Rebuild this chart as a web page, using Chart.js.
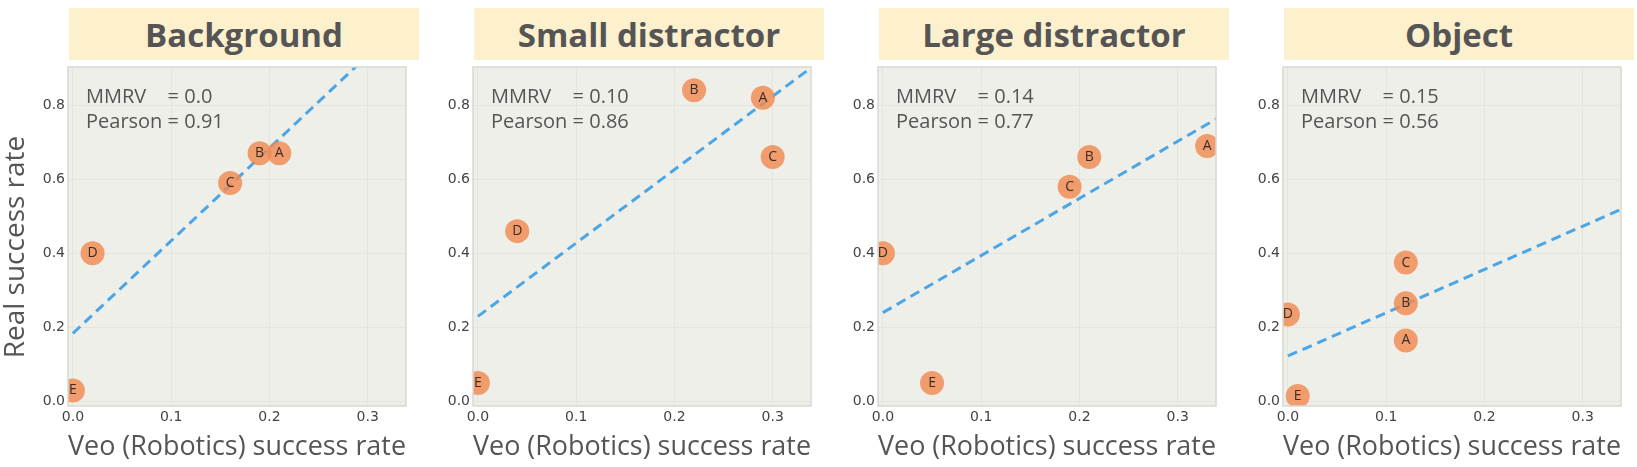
<!DOCTYPE html>
<html>
<head>
<meta charset="utf-8">
<script src="https://cdn.jsdelivr.net/npm/chart.js@4/dist/chart.umd.min.js"></script>
<style>
  body { margin: 0; background: #fff; width: 1637px; height: 467px; overflow: hidden; position: relative; }
  .title-box {
    position: absolute; top: 8px; height: 52px; width: 350px;
    background: #fdf0cd; color: #555;
    font-family: 'Open Sans', sans-serif; font-weight: 700; font-size: 33px;
    display: flex; align-items: center; justify-content: center;
  }
  canvas { position: absolute; top: 0; }
</style>
</head>
<body>
<script>
const panelTitles = ['Background', 'Small distractor', 'Large distractor', 'Object'];
const pointLabels = ['A', 'B', 'C', 'D', 'E'];

// Veo (Robotics) success rate per policy A..E
const veoBackground = [0.21, 0.19, 0.16, 0.02, 0.0];
const veoSmall = [0.29, 0.22, 0.30, 0.04, 0.0];
const veoLarge = [0.33, 0.21, 0.19, 0.0, 0.05];
const veoObject = [0.12, 0.12, 0.12, 0.0, 0.01];

// Real success rate per policy A..E
const realBackground = [0.67, 0.67, 0.59, 0.40, 0.03];
const realSmall = [0.82, 0.84, 0.66, 0.46, 0.05];
const realLarge = [0.69, 0.66, 0.58, 0.40, 0.05];
const realObject = [0.165, 0.265, 0.375, 0.235, 0.015];

// dashed fit line: value at x = 0 and at x = 0.34
const fitStart = [0.184, 0.23, 0.24, 0.123];
const fitEnd = [1.034, 0.903, 0.764, 0.52];

const mmrvValues = ['0.0', '0.10', '0.14', '0.15'];
const pearsonValues = ['0.91', '0.86', '0.77', '0.56'];

const xTickValues = [0.0, 0.1, 0.2, 0.3];
const yTickValues = [0.0, 0.2, 0.4, 0.6, 0.8];

const veoRates = [veoBackground, veoSmall, veoLarge, veoObject];
const realRates = [realBackground, realSmall, realLarge, realObject];

const plotLefts = [68, 473, 878, 1283];
const yAxisWidth = 68;
const canvasW = 418, canvasH = 467;

const plotBg = {
  id: 'plotBg',
  beforeDraw(chart) {
    const a = chart.chartArea, ctx = chart.ctx;
    ctx.save();
    ctx.fillStyle = '#efefea';
    ctx.fillRect(a.left, a.top, a.right - a.left, a.bottom - a.top);
    ctx.restore();
  },
  afterDraw(chart) {
    const a = chart.chartArea, ctx = chart.ctx;
    ctx.save();
    ctx.strokeStyle = '#d8d8d3';
    ctx.lineWidth = 1.5;
    ctx.strokeRect(a.left, a.top, a.right - a.left, a.bottom - a.top);
    ctx.restore();
  }
};

const extraText = {
  id: 'extraText',
  afterDatasetsDraw(chart, args, opts) {
    const ctx = chart.ctx, a = chart.chartArea;
    ctx.save();
    // letters on the dots
    const meta = chart.getDatasetMeta(0);
    ctx.fillStyle = '#3b2e26';
    ctx.font = '14px "Open Sans"';
    ctx.textAlign = 'center';
    ctx.textBaseline = 'middle';
    meta.data.forEach((pt, i) => ctx.fillText(pointLabels[i], pt.x, pt.y));

    // MMRV / Pearson box
    ctx.fillStyle = '#555';
    ctx.font = '20px "Open Sans"';
    ctx.textAlign = 'left';
    const x0 = a.left + 18;
    const eqX = x0 + ctx.measureText('Pearson ').width;
    ctx.fillText('MMRV', x0, a.top + 30);
    ctx.fillText('= ' + opts.mmrv, eqX, a.top + 30);
    ctx.fillText('Pearson = ' + opts.pearson, x0, a.top + 55);

    if (opts.yTitle) {
      ctx.font = '28px "Open Sans"';
      ctx.textAlign = 'center';
      ctx.translate(16, 247);
      ctx.rotate(-Math.PI / 2);
      ctx.fillText('Real success rate', 0, 0);
    }
    ctx.restore();
  }
};

panelTitles.forEach((title, p) => {
  const box = document.createElement('div');
  box.className = 'title-box';
  box.style.left = (plotLefts[p] + 1) + 'px';
  box.textContent = title;
  document.body.appendChild(box);

  const canvas = document.createElement('canvas');
  canvas.width = canvasW;
  canvas.height = canvasH;
  canvas.style.left = (plotLefts[p] - yAxisWidth) + 'px';
  document.body.appendChild(canvas);

  const points = veoRates[p].map((v, i) => ({ x: v, y: realRates[p][i] }));

  new Chart(canvas.getContext('2d'), {
    type: 'scatter',
    data: {
      datasets: [
        {
          data: points,
          pointRadius: 12,
          pointBackgroundColor: 'rgba(240,138,82,0.82)',
          pointBorderWidth: 0,
          order: 0,
          clip: 0
        },
        {
          type: 'line',
          data: [{ x: 0, y: fitStart[p] }, { x: 0.34, y: fitEnd[p] }],
          borderColor: '#4ba6e8',
          borderWidth: 3,
          borderDash: [10, 6],
          pointRadius: 0,
          fill: false,
          order: 1,
          clip: 0
        }
      ]
    },
    options: {
      responsive: false,
      animation: false,
      layout: { padding: { top: 67, right: 3, left: 0, bottom: 0 } },
      plugins: {
        legend: { display: false },
        tooltip: { enabled: false },
        extraText: { mmrv: mmrvValues[p], pearson: pearsonValues[p], yTitle: p === 0 }
      },
      scales: {
        x: {
          type: 'linear',
          min: -0.005,
          max: 0.339,
          afterBuildTicks: s => { s.ticks = xTickValues.map(v => ({ value: v })); },
          afterFit: s => { s.height = 61; },
          grid: { color: '#e5e5e0', drawTicks: false },
          border: { display: false },
          ticks: {
            padding: 3,
            color: '#444',
            font: { family: 'DejaVu Sans', size: 14 },
            callback: v => v.toFixed(1)
          },
          title: {
            display: true,
            text: 'Veo (Robotics) success rate',
            color: '#555',
            font: { family: 'Open Sans', size: 27 },
            padding: { top: 3, bottom: 3 }
          }
        },
        y: {
          type: 'linear',
          min: -0.012,
          max: 0.903,
          afterBuildTicks: s => { s.ticks = yTickValues.map(v => ({ value: v })); },
          afterFit: s => { s.width = yAxisWidth; },
          grid: { color: '#e5e5e0', drawTicks: false },
          border: { display: false },
          ticks: {
            padding: 3,
            color: '#444',
            font: { family: 'DejaVu Sans', size: 14 },
            callback: v => v.toFixed(1)
          }
        }
      }
    },
    plugins: [plotBg, extraText]
  });
});
</script>
</body>
</html>
